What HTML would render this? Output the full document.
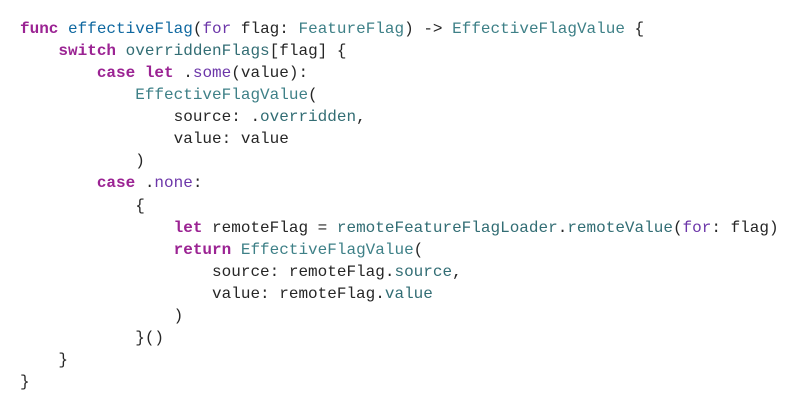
<!DOCTYPE html>
<html><head><meta charset="utf-8"><style>
html,body{margin:0;padding:0;background:#fff;width:800px;height:409px;overflow:hidden}
pre{margin:0;position:absolute;left:20px;top:18px;font-family:"Liberation Mono",monospace;font-size:16px;line-height:22.06px;color:#262626}
.k{color:#9B2393;font-weight:bold}
.f{color:#0F68A0}
.t{color:#3E8087}
.e{color:#6C36A9}
.p{color:#326D74}
</style></head><body><pre><span class="k">func</span> <span class="f">effectiveFlag</span>(<span class="e">for</span> flag: <span class="t">FeatureFlag</span>) -&gt; <span class="t">EffectiveFlagValue</span> {
    <span class="k">switch</span> <span class="p">overriddenFlags</span>[flag] {
        <span class="k">case</span> <span class="k">let</span> .<span class="e">some</span>(value):
            <span class="t">EffectiveFlagValue</span>(
                source: .<span class="p">overridden</span>,
                value: value
            )
        <span class="k">case</span> .<span class="e">none</span>:
            {
                <span class="k">let</span> remoteFlag = <span class="p">remoteFeatureFlagLoader</span>.<span class="p">remoteValue</span>(<span class="e">for</span>: flag)
                <span class="k">return</span> <span class="t">EffectiveFlagValue</span>(
                    source: remoteFlag.<span class="p">source</span>,
                    value: remoteFlag.<span class="p">value</span>
                )
            }()
    }
}</pre></body></html>
